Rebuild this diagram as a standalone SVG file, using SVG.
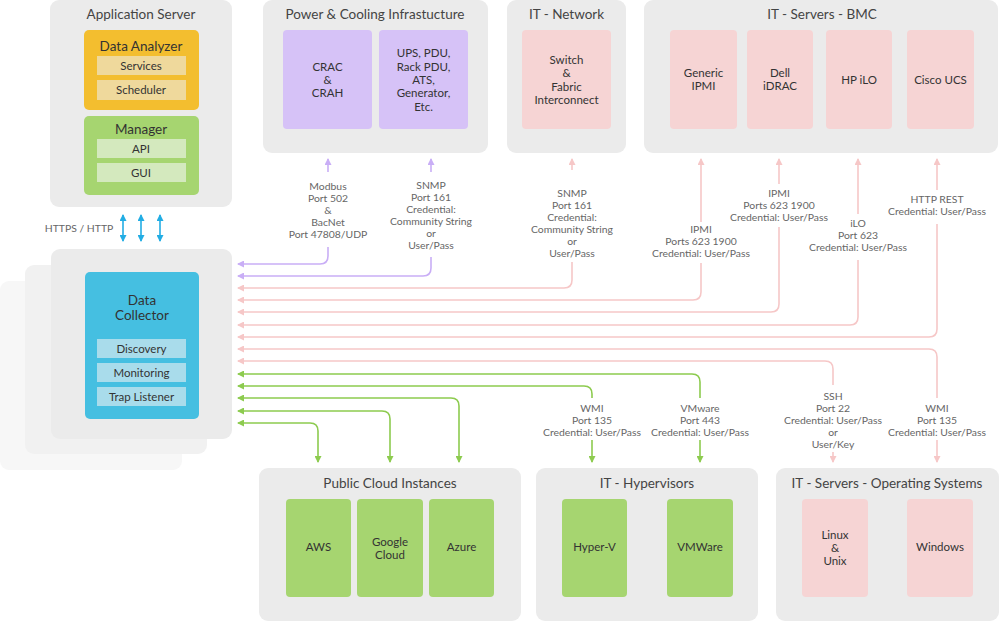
<svg xmlns="http://www.w3.org/2000/svg" width="1000" height="622" viewBox="0 0 1000 622">
<style>
.box{fill:#EBEBEB}
.t{font-family:Lato,"Open Sans","Liberation Sans",sans-serif;text-anchor:middle}
.title{font-size:13.5px;fill:#444}
.node{font-size:11.5px;fill:#333}
.big{font-size:13.5px;fill:#333}
.lbl{font-size:10.4px;fill:#666}
.cp{fill:none;stroke:#C9AEF6;stroke-width:1.6}
.ck{fill:none;stroke:#F6C7C7;stroke-width:1.6}
.cg{fill:none;stroke:#8DCB4F;stroke-width:1.6}
.cb{fill:none;stroke:#22ADE4;stroke-width:1.6}
</style>
<defs>
<marker id="ap" markerUnits="userSpaceOnUse" markerWidth="7" markerHeight="7" refX="6" refY="3.5" orient="auto-start-reverse"><path d="M0,0 L7,3.5 L0,7 z" fill="#C9AEF6"/></marker>
<marker id="ak" markerUnits="userSpaceOnUse" markerWidth="7" markerHeight="7" refX="6" refY="3.5" orient="auto-start-reverse"><path d="M0,0 L7,3.5 L0,7 z" fill="#F6C7C7"/></marker>
<marker id="ag" markerUnits="userSpaceOnUse" markerWidth="7" markerHeight="7" refX="6" refY="3.5" orient="auto-start-reverse"><path d="M0,0 L7,3.5 L0,7 z" fill="#8DCB4F"/></marker>
<marker id="ab" markerUnits="userSpaceOnUse" markerWidth="7" markerHeight="7" refX="6" refY="3.5" orient="auto-start-reverse"><path d="M0,0 L7,3.5 L0,7 z" fill="#22ADE4"/></marker>
</defs>
<rect width="1000" height="622" fill="#FFFFFF"/>

<g id="application-server">
<rect class="box" x="50" y="0" width="182" height="207" rx="9"/>
<text class="t title" x="141" y="19">Application Server</text>
<g id="data-analyzer">
<rect x="84" y="30" width="115" height="80" rx="5" fill="#F3BE2F"/>
<text class="t big" x="141" y="50.5">Data Analyzer</text>
<rect x="97" y="56" width="89" height="19" fill="#EFD99C"/>
<text class="t node" x="141" y="69.5">Services</text>
<rect x="97" y="80" width="89" height="20" fill="#EFD99C"/>
<text class="t node" x="141" y="94">Scheduler</text>
</g>
<g id="manager">
<rect x="84" y="116" width="115" height="79" rx="5" fill="#A6D570"/>
<text class="t big" x="141" y="134">Manager</text>
<rect x="97" y="139" width="89" height="19" fill="#D4E9BE"/>
<text class="t node" x="141" y="152.5">API</text>
<rect x="97" y="163" width="89" height="19" fill="#D4E9BE"/>
<text class="t node" x="141" y="176.5">GUI</text>
</g>
</g>

<g id="data-collector-stack">
<rect x="0" y="281" width="182" height="189" rx="9" fill="#F7F7F7"/>
<rect x="25" y="265" width="182" height="189" rx="9" fill="#F1F1F1"/>
<rect class="box" x="51" y="249" width="181" height="190" rx="9"/>
<g id="data-collector">
<rect x="85" y="272" width="114" height="147" rx="5" fill="#45BFE1"/>
<text class="t big" x="142" y="305">Data</text>
<text class="t big" x="142" y="320">Collector</text>
<rect x="97" y="339" width="89" height="19" fill="#A9DCEB"/>
<text class="t node" x="141.5" y="352.5">Discovery</text>
<rect x="97" y="363" width="89" height="19" fill="#A9DCEB"/>
<text class="t node" x="141.5" y="376.5">Monitoring</text>
<rect x="97" y="387" width="89" height="19" fill="#A9DCEB"/>
<text class="t node" x="141.5" y="400.5">Trap Listener</text>
</g>
</g>

<g id="power-cooling">
<rect class="box" x="263" y="0" width="225" height="153" rx="9"/>
<text class="t title" x="375" y="19">Power &amp; Cooling Infrastucture</text>
<g id="crac">
<rect x="283" y="30" width="89" height="99" rx="4" fill="#D6C2F7"/>
<text class="t node" x="327.5" y="71">CRAC</text>
<text class="t node" x="327.5" y="84">&amp;</text>
<text class="t node" x="327.5" y="97">CRAH</text>
</g>
<g id="ups">
<rect x="379" y="30" width="89" height="99" rx="4" fill="#D6C2F7"/>
<text class="t node" x="423.5" y="57">UPS, PDU,</text>
<text class="t node" x="423.5" y="71">Rack PDU,</text>
<text class="t node" x="423.5" y="84">ATS,</text>
<text class="t node" x="423.5" y="97">Generator,</text>
<text class="t node" x="423.5" y="111">Etc.</text>
</g>
</g>

<g id="it-network">
<rect class="box" x="507" y="0" width="119" height="153" rx="9"/>
<text class="t title" x="566.5" y="19">IT - Network</text>
<g id="switch">
<rect x="522" y="30" width="89" height="99" rx="4" fill="#F6D4D4"/>
<text class="t node" x="566.5" y="64">Switch</text>
<text class="t node" x="566.5" y="77">&amp;</text>
<text class="t node" x="566.5" y="91">Fabric</text>
<text class="t node" x="566.5" y="104">Interconnect</text>
</g>
</g>

<g id="it-servers-bmc">
<rect class="box" x="644" y="0" width="354" height="153" rx="9"/>
<text class="t title" x="822" y="19">IT - Servers - BMC</text>
<g id="generic-ipmi">
<rect x="670" y="30" width="67" height="99" rx="4" fill="#F6D4D4"/>
<text class="t node" x="703.5" y="77">Generic</text>
<text class="t node" x="703.5" y="90">IPMI</text>
</g>
<g id="dell-idrac">
<rect x="747" y="30" width="66" height="99" rx="4" fill="#F6D4D4"/>
<text class="t node" x="780" y="77">Dell</text>
<text class="t node" x="780" y="90">iDRAC</text>
</g>
<g id="hp-ilo">
<rect x="826" y="30" width="66" height="99" rx="4" fill="#F6D4D4"/>
<text class="t node" x="859" y="84">HP iLO</text>
</g>
<g id="cisco-ucs">
<rect x="907" y="30" width="67" height="99" rx="4" fill="#F6D4D4"/>
<text class="t node" x="940.5" y="84">Cisco UCS</text>
</g>
</g>

<g id="public-cloud">
<rect class="box" x="259" y="468" width="262" height="153" rx="9"/>
<text class="t title" x="390" y="488">Public Cloud Instances</text>
<g id="aws">
<rect x="286" y="499" width="65" height="98" rx="4" fill="#A6D570"/>
<text class="t node" x="318.5" y="551">AWS</text>
</g>
<g id="google-cloud">
<rect x="357" y="499" width="66" height="98" rx="4" fill="#A6D570"/>
<text class="t node" x="390" y="546">Google</text>
<text class="t node" x="390" y="559">Cloud</text>
</g>
<g id="azure">
<rect x="429" y="499" width="65" height="98" rx="4" fill="#A6D570"/>
<text class="t node" x="461.5" y="551">Azure</text>
</g>
</g>

<g id="it-hypervisors">
<rect class="box" x="536" y="468" width="222" height="153" rx="9"/>
<text class="t title" x="647" y="488">IT - Hypervisors</text>
<g id="hyper-v">
<rect x="562" y="499" width="65" height="98" rx="4" fill="#A6D570"/>
<text class="t node" x="594.5" y="551">Hyper-V</text>
</g>
<g id="vmware">
<rect x="667" y="499" width="66" height="98" rx="4" fill="#A6D570"/>
<text class="t node" x="700" y="551">VMWare</text>
</g>
</g>

<g id="it-servers-os">
<rect class="box" x="776" y="468" width="223" height="153" rx="9"/>
<text class="t title" x="887" y="488">IT - Servers - Operating Systems</text>
<g id="linux-unix">
<rect x="802" y="499" width="66" height="98" rx="4" fill="#F6D4D4"/>
<text class="t node" x="835" y="539">Linux</text>
<text class="t node" x="835" y="552">&amp;</text>
<text class="t node" x="835" y="565">Unix</text>
</g>
<g id="windows">
<rect x="907" y="499" width="66" height="98" rx="4" fill="#F6D4D4"/>
<text class="t node" x="940" y="551">Windows</text>
</g>
</g>

<g id="connectors">
<path class="cb" d="M123,215 V241" marker-start="url(#ab)" marker-end="url(#ab)"/>
<path class="cb" d="M141,215 V241" marker-start="url(#ab)" marker-end="url(#ab)"/>
<path class="cb" d="M160,215 V241" marker-start="url(#ab)" marker-end="url(#ab)"/>

<path class="cp" d="M328,172 V159" marker-end="url(#ap)"/>
<path class="cp" d="M238,264 H320 Q328,264 328,256 V247" marker-start="url(#ap)"/>
<path class="cp" d="M431,172 V159" marker-end="url(#ap)"/>
<path class="cp" d="M238,276 H423 Q431,276 431,268 V257" marker-start="url(#ap)"/>

<path class="ck" d="M572,170 V159" marker-end="url(#ak)"/>
<path class="ck" d="M238,288 H564 Q572,288 572,280 V262" marker-start="url(#ak)"/>
<path class="ck" d="M701,222 V159" marker-end="url(#ak)"/>
<path class="ck" d="M238,300 H693 Q701,300 701,292 V263" marker-start="url(#ak)"/>
<path class="ck" d="M779,184 V159" marker-end="url(#ak)"/>
<path class="ck" d="M238,312 H771 Q779,312 779,304 V227" marker-start="url(#ak)"/>
<path class="ck" d="M858,214 V159" marker-end="url(#ak)"/>
<path class="ck" d="M238,325 H850 Q858,325 858,317 V260" marker-start="url(#ak)"/>
<path class="ck" d="M937,190 V159" marker-end="url(#ak)"/>
<path class="ck" d="M238,337 H929 Q937,337 937,329 V224" marker-start="url(#ak)"/>
<path class="ck" d="M238,349 H929 Q937,349 937,357 V398" marker-start="url(#ak)"/>
<path class="ck" d="M937,440 V462" marker-end="url(#ak)"/>
<path class="ck" d="M238,361 H825 Q833,361 833,369 V385" marker-start="url(#ak)"/>
<path class="ck" d="M833,452 V462" marker-end="url(#ak)"/>

<path class="cg" d="M238,374 H692 Q700,374 700,382 V398" marker-start="url(#ag)"/>
<path class="cg" d="M700,440 V462" marker-end="url(#ag)"/>
<path class="cg" d="M238,386 H584 Q592,386 592,394 V398" marker-start="url(#ag)"/>
<path class="cg" d="M592,440 V462" marker-end="url(#ag)"/>
<path class="cg" d="M238,398 H451 Q459,398 459,406 V462" marker-start="url(#ag)" marker-end="url(#ag)"/>
<path class="cg" d="M238,411 H382 Q390,411 390,419 V462" marker-start="url(#ag)" marker-end="url(#ag)"/>
<path class="cg" d="M238,423 H310 Q318,423 318,431 V462" marker-start="url(#ag)" marker-end="url(#ag)"/>
</g>

<g id="labels">
<text class="t lbl" x="79" y="232">HTTPS / HTTP</text>
<text class="t lbl" x="328" y="189.5">Modbus</text>
<text class="t lbl" x="328" y="201.5">Port 502</text>
<text class="t lbl" x="328" y="213.5">&amp;</text>
<text class="t lbl" x="328" y="225.5">BacNet</text>
<text class="t lbl" x="328" y="237.5">Port 47808/UDP</text>

<text class="t lbl" x="431" y="188.5">SNMP</text>
<text class="t lbl" x="431" y="200.5">Port 161</text>
<text class="t lbl" x="431" y="212.5">Credential:</text>
<text class="t lbl" x="431" y="224.5">Community String</text>
<text class="t lbl" x="431" y="236.5">or</text>
<text class="t lbl" x="431" y="248.5">User/Pass</text>

<text class="t lbl" x="572" y="196.5">SNMP</text>
<text class="t lbl" x="572" y="208.5">Port 161</text>
<text class="t lbl" x="572" y="220.5">Credential:</text>
<text class="t lbl" x="572" y="232.5">Community String</text>
<text class="t lbl" x="572" y="244.5">or</text>
<text class="t lbl" x="572" y="256.5">User/Pass</text>

<text class="t lbl" x="701" y="232.5">IPMI</text>
<text class="t lbl" x="701" y="244.5">Ports 623 1900</text>
<text class="t lbl" x="701" y="256.5">Credential: User/Pass</text>

<text class="t lbl" x="779" y="196.5">IPMI</text>
<text class="t lbl" x="779" y="208.5">Ports 623 1900</text>
<text class="t lbl" x="779" y="220.5">Credential: User/Pass</text>

<text class="t lbl" x="858" y="226.5">iLO</text>
<text class="t lbl" x="858" y="238.5">Port 623</text>
<text class="t lbl" x="858" y="250.5">Credential: User/Pass</text>

<text class="t lbl" x="937" y="202.5">HTTP REST</text>
<text class="t lbl" x="937" y="214.5">Credential: User/Pass</text>

<text class="t lbl" x="592" y="411.5">WMI</text>
<text class="t lbl" x="592" y="423.5">Port 135</text>
<text class="t lbl" x="592" y="435.5">Credential: User/Pass</text>

<text class="t lbl" x="700" y="411.5">VMware</text>
<text class="t lbl" x="700" y="423.5">Port 443</text>
<text class="t lbl" x="700" y="435.5">Credential: User/Pass</text>

<text class="t lbl" x="833" y="399.5">SSH</text>
<text class="t lbl" x="833" y="411.5">Port 22</text>
<text class="t lbl" x="833" y="423.5">Credential: User/Pass</text>
<text class="t lbl" x="833" y="435.5">or</text>
<text class="t lbl" x="833" y="447.5">User/Key</text>

<text class="t lbl" x="937" y="411.5">WMI</text>
<text class="t lbl" x="937" y="423.5">Port 135</text>
<text class="t lbl" x="937" y="435.5">Credential: User/Pass</text>
</g>
</svg>
